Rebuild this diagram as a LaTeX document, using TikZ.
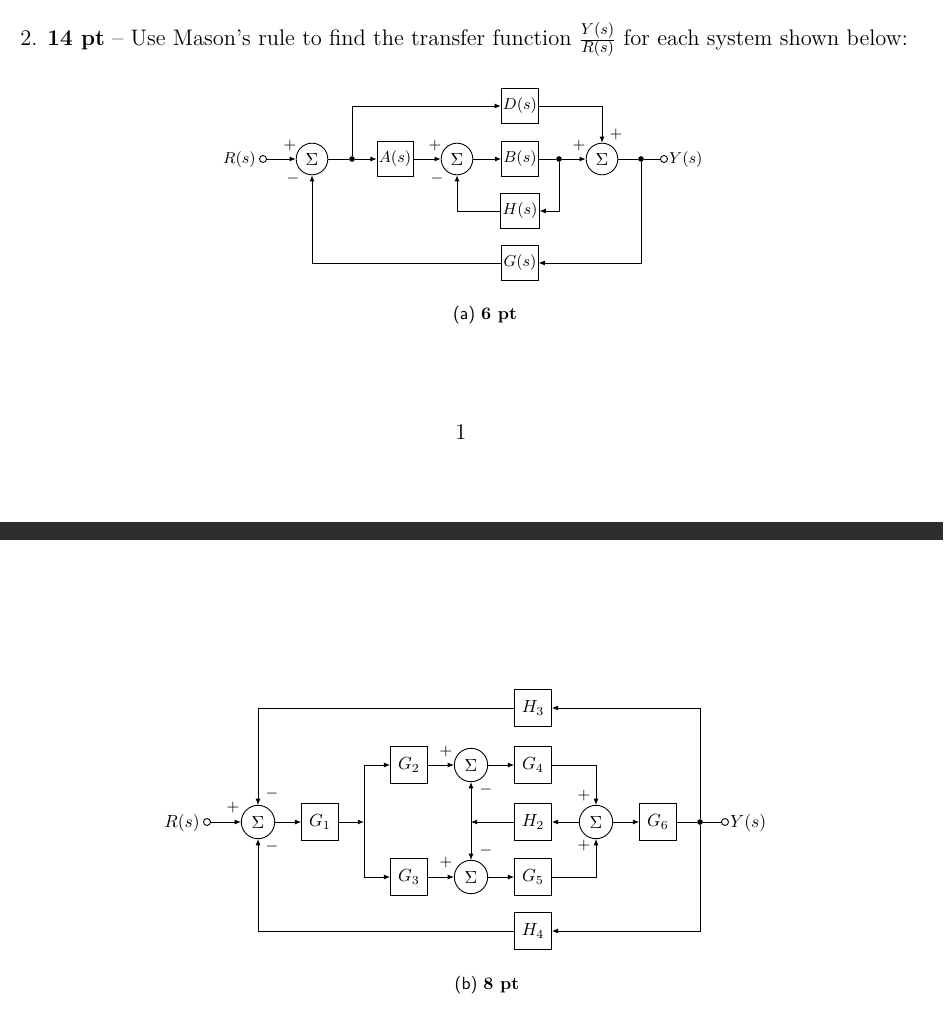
\documentclass[tikz,border=0pt]{standalone}
\usetikzlibrary{arrows.meta}
\begin{document}
\begin{tikzpicture}[x=0.02cm,y=-0.02cm,
  line width=0.5pt,
  >={Latex[length=3.5pt,width=2.8pt]},
  blk/.style={draw,minimum width=20pt,minimum height=20pt,inner sep=1pt,font=\fontsize{9}{10}\selectfont},
  blkb/.style={draw,minimum width=21pt,minimum height=21.5pt,inner sep=1pt,font=\fontsize{10}{11}\selectfont},
  sm/.style={draw,circle,minimum size=18pt,inner sep=0pt,font=\fontsize{10}{11}\selectfont},
  smb/.style={draw,circle,minimum size=19pt,inner sep=0pt,font=\fontsize{10}{11}\selectfont},
  dot/.style={circle,fill,inner sep=0pt,minimum size=3.2pt},
  oc/.style={circle,draw,fill=white,inner sep=0pt,minimum size=4pt},
  sg/.style={font=\fontsize{9}{10}\selectfont,inner sep=0pt},
  lb/.style={font=\fontsize{9}{10}\selectfont,inner sep=1pt},
  lbb/.style={font=\fontsize{10}{11}\selectfont,inner sep=1pt}]
\useasboundingbox (0,0) rectangle (943,1024);
\fill[white] (0,0) rectangle (943,1024);
% title
\node[anchor=west,font=\fontsize{12.8}{14}\selectfont,inner sep=0pt] (title) at (20,40)
 {2. \textbf{14 pt} -- Use Mason's rule to find the transfer function $\frac{Y(s)}{R(s)}$ for each system shown below:};
% band
\fill[black!82] (0,522) rectangle (943,540);
% ===== (a) =====
\node[lb,anchor=east] (aR) at (258,160) {$R(s)$};
\node[oc] (aRi) at (263,159) {};
\node[sm] (aS1) at (312,159) {$\Sigma$};
\node[dot] (aP1) at (352,159) {};
\node[blk] (aA) at (395,159) {$A(s)$};
\node[sm] (aS2) at (457,159) {$\Sigma$};
\node[blk] (aB) at (520,159) {$B(s)$};
\node[blk] (aD) at (520,106) {$D(s)$};
\node[blk] (aH) at (520,211) {$H(s)$};
\node[blk] (aG) at (520,263) {$G(s)$};
\node[dot] (aP2) at (559,159) {};
\node[sm] (aS3) at (602,159) {$\Sigma$};
\node[dot] (aP3) at (641,159) {};
\node[oc] (aYo) at (664,159) {};
\node[lb,anchor=west] (aY) at (667,160) {$Y(s)$};
\draw[->] (aRi) -- (aS1);
\draw (aS1) -- (aP1);
\draw[->] (aP1) -- (aA);
\draw[->] (aA) -- (aS2);
\draw[->] (aS2) -- (aB);
\draw (aB) -- (aP2);
\draw[->] (aP2) -- (aS3);
\draw (aS3) -- (aP3) -- (aYo);
\draw[->] (aP1) |- (aD);
\draw[->] (aD) -| (aS3);
\draw[->] (aP2) |- (aH);
\draw[->] (aH) -| (aS2);
\draw[->] (aP3) |- (aG);
\draw[->] (aG) -| (aS1);
\node[sg] (a1p) at (290,146) {$+$};
\node[sg] (a1m) at (293,179) {$-$};
\node[sg] (a2p) at (435,146) {$+$};
\node[sg] (a2m) at (437,179) {$-$};
\node[sg] (a3p) at (579,146) {$+$};
\node[sg] (a3q) at (616,135) {$+$};
\node[inner sep=0pt] (capa) at (485,315) {\fontsize{10}{12}\selectfont\sffamily(a) \rmfamily\bfseries 6 pt};
\node[inner sep=0pt] (pg) at (461,432) {\fontsize{12.8}{14}\selectfont 1};
% ===== (b) =====
\node[lbb,anchor=east] (bR) at (202,823) {$R(s)$};
\node[oc] (bRi) at (207,822) {};
\node[smb] (bS1) at (258,822) {$\Sigma$};
\node[blkb] (bG1) at (320,822) {$G_1$};
\coordinate (bB) at (364,822);
\node[blkb] (bG2) at (409,765) {$G_2$};
\node[blkb] (bG3) at (409,877) {$G_3$};
\node[smb] (bSt) at (471,765) {$\Sigma$};
\node[smb] (bSb) at (471,877) {$\Sigma$};
\node[blkb] (bG4) at (533,765) {$G_4$};
\node[blkb] (bG5) at (533,877) {$G_5$};
\node[blkb] (bH2) at (533,822) {$H_2$};
\node[blkb] (bH3) at (533,708) {$H_3$};
\node[blkb] (bH4) at (533,931) {$H_4$};
\node[smb] (bSr) at (596,822) {$\Sigma$};
\node[blkb] (bG6) at (658,822) {$G_6$};
\node[dot] (bP) at (700,822) {};
\node[oc] (bYo) at (725,822) {};
\node[lbb,anchor=west] (bY) at (728,823) {$Y(s)$};
\coordinate (bV) at (471,822);
\draw[->] (bRi) -- (bS1);
\draw[->] (bS1) -- (bG1);
\draw[->] (bG1) -- (bB);
\draw[->] (bB) |- (bG2);
\draw[->] (bB) |- (bG3);
\draw[->] (bG2) -- (bSt);
\draw[->] (bG3) -- (bSb);
\draw[->] (bSt) -- (bG4);
\draw[->] (bSb) -- (bG5);
\draw[->] (bG4) -| (bSr);
\draw[->] (bG5) -| (bSr);
\draw[->] (bSr) -- (bH2);
\draw[->] (bH2) -- (bV);
\draw[->] (bV) -- (bSt);
\draw[->] (bV) -- (bSb);
\draw[->] (bSr) -- (bG6);
\draw (bG6) -- (bP) -- (bYo);
\draw[->] (bP) |- (bH3);
\draw[->] (bH3) -| (bS1);
\draw[->] (bP) |- (bH4);
\draw[->] (bH4) -| (bS1);
\node[sg] (b1p) at (233,808) {$+$};
\node[sg] (b1m) at (272,794) {$-$};
\node[sg] (b1n) at (272,847) {$-$};
\node[sg] (btp) at (446,752) {$+$};
\node[sg] (btm) at (486,790) {$-$};
\node[sg] (bbp) at (446,863) {$+$};
\node[sg] (bbm) at (486,851) {$-$};
\node[sg] (brp) at (584,796) {$+$};
\node[sg] (brq) at (584,846) {$+$};
\node[inner sep=0pt] (capb) at (487,985) {\fontsize{10}{12}\selectfont\sffamily(b) \rmfamily\bfseries 8 pt};
\end{tikzpicture}
\end{document}
